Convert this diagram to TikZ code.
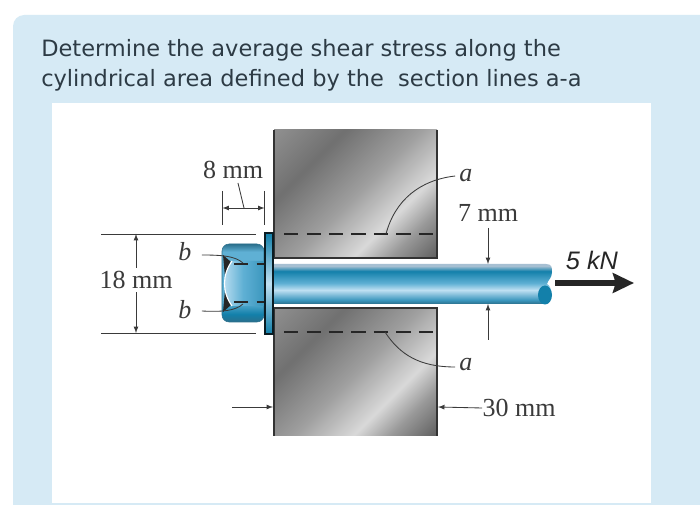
\documentclass[tikz,border=0pt]{standalone}
\usepackage{fontspec}
\usetikzlibrary{arrows.meta}
\setmainfont{Liberation Serif}
\setsansfont{Liberation Sans}
\newfontfamily\titlefont{DejaVu Sans}
\definecolor{panelblue}{HTML}{D6EAF5}
\definecolor{titlegray}{HTML}{2D3B45}
\definecolor{labelgray}{HTML}{3A3A3A}
\definecolor{pindark}{HTML}{2A6F8C}
\definecolor{pinmid}{HTML}{3C97BE}
\definecolor{pinlight}{HTML}{BFE0F2}
\definecolor{pinsoft}{HTML}{5FB0D4}
\definecolor{pinteal}{HTML}{1380AA}
\definecolor{pintop}{HTML}{A6BFD2}
\pgfdeclareverticalshading{shaftshade}{100bp}{color(0bp)=(pindark); color(25bp)=(pindark); color(30bp)=(pinmid); color(42.5bp)=(pinlight); color(51bp)=(pinsoft); color(66bp)=(pinteal); color(72.5bp)=(pintop); color(75bp)=(pintop); color(100bp)=(pintop)}
\pgfdeclarehorizontalshading{blockshade}{100bp}{color(0bp)=(black!44); color(15bp)=(black!44); color(32bp)=(black!56); color(50bp)=(black!38); color(65bp)=(black!15); color(74bp)=(black!40); color(85bp)=(black!62); color(100bp)=(black!62)}
\pgfdeclareverticalshading{headshade}{100bp}{color(0bp)=(pindark); color(25bp)=(pindark); color(30bp)=(pinteal); color(38bp)=(pinsoft); color(62bp)=(pinsoft); color(70bp)=(pinsoft); color(75bp)=(pindark); color(100bp)=(pindark)}
\pgfdeclarehorizontalshading{faceshade}{100bp}{color(0bp)=(pinlight); color(25bp)=(pinlight); color(50bp)=(pinsoft); color(75bp)=(pinmid); color(100bp)=(pinmid)}
\pgfdeclareverticalshading{washervert}{100bp}{color(0bp)=(pinteal); color(25bp)=(pinteal); color(50bp)=(pinlight); color(75bp)=(pinteal); color(100bp)=(pinteal)}
\tikzset{
 dim/.style={labelgray,line width=0.6pt},
 lbl/.style={text=labelgray,font=\fontsize{18.5}{20}\selectfont,inner sep=0pt},
 sect/.style={black!85,line width=1.3pt,dash pattern=on 10pt off 6pt},
}
\begin{document}
\begin{tikzpicture}[>=latex,x=0.025cm,y=-0.025cm]
\useasboundingbox (0,0) rectangle (700,505);
\fill[white] (0,0) rectangle (700,505);
\fill[panelblue,rounded corners=8] (13,15) -- (720,15) -- (720,530) -- (13,530) -- cycle;
\fill[white] (52,103) rectangle (651,503);
\node[anchor=base west,inner sep=0pt,text=titlegray,font=\titlefont\fontsize{16}{18}\selectfont] (line1) at (41,56.5) {Determine the average shear stress along the};
\node[anchor=base west,inner sep=0pt,text=titlegray,font=\titlefont\fontsize{16}{18}\selectfont] (line2) at (41,86.5) {cylindrical area defined by the\ \ section lines a-a};
% plate
\shade[shading=blockshade,shading angle=-45] (274,130) rectangle (437,258);
\shade[shading=blockshade,shading angle=-45] (274,308) rectangle (437,436);
\draw[black!80,line width=1pt] (274,130) -- (274,258) -- (437,258) -- (437,130);
\draw[black!80,line width=1pt] (274,436) -- (274,308) -- (437,308) -- (437,436);
% pin
\shade[shading=shaftshade] (268,264) -- (546,264) .. controls (552,264) and (552,268) .. (552,272) .. controls (552,278) and (548,280) .. (547,284) .. controls (553,287) and (553,300) .. (545,304) -- (268,304) -- cycle;
\fill[pinteal] (545,295) ellipse (7 and 9.5);
% head and washer
\shade[shading=headshade,draw=pindark,rounded corners=5] (264,244) -- (222,244) -- (222,322) -- (264,322) -- cycle;
\fill[black!85] (223,255) -- (231,262) -- (225,277) -- cycle (223,312) -- (231,305) -- (225,290) -- cycle;
\shade[shading=faceshade] (264,261) -- (232,261) .. controls (222,275) and (222,292) .. (232,306) -- (264,306) -- cycle;
\draw[white,line width=0.8pt] (232,261) .. controls (222,275) and (222,292) .. (232,306);
\shade[shading=washervert,draw=black!75!pindark,line width=1.1pt] (265,233) rectangle (273,334);
% section lines
\draw[sect] (284,234) -- (433,234);
\draw[sect] (284,332) -- (433,332);
\draw[sect] (234,264) -- (264,264);
\draw[sect] (234,302) -- (264,302);
% labels
\node[lbl] (eight) at (233,170) {8 mm};
\node[lbl] (eighteen) at (136,280) {18 mm};
\node[lbl] (seven) at (488,213) {7 mm};
\node[lbl] (thirty) at (519,408) {30 mm};
\node[lbl] (aone) at (466,176) {\textit{a}};
\node[lbl] (atwo) at (466,365) {\textit{a}};
\node[lbl] (bone) at (185,252) {\textit{b}};
\node[lbl] (btwo) at (185,310) {\textit{b}};
\node[inner sep=0pt,text=black!85,font=\sffamily\itshape\fontsize{18}{20}\selectfont] (force) at (592,260.5) {5 kN};
% dimensions
\coordinate (e1) at (222.5,191); \coordinate (e2) at (222.5,225);
\coordinate (e3) at (264.5,191); \coordinate (e4) at (264.5,225);
\coordinate (e5) at (222.5,208); \coordinate (e6) at (264.5,208); \coordinate (e7) at (244,208);
\draw[dim] (e1) -- (e2);
\draw[dim] (e3) -- (e4);
\draw[dim,<->] (e5) -- (e6);
\draw[dim] (eight) ++(5,13) -- (e7);
\coordinate (h1) at (101,234); \coordinate (h2) at (256,234);
\coordinate (h3) at (101,333); \coordinate (h4) at (256,333);
\coordinate (h5) at (136,234); \coordinate (h6) at (136,333);
\draw[dim] (h1) -- (h2);
\draw[dim] (h3) -- (h4);
\draw[dim,->] (eighteen.north) ++(0,-3) -- (h5);
\draw[dim,->] (eighteen.south) ++(0,3) -- (h6);
\coordinate (s1) at (488,228); \coordinate (s2) at (488,264);
\coordinate (s3) at (488,340); \coordinate (s4) at (488,304);
\draw[dim,->] (s1) -- (s2);
\draw[dim,->] (s3) -- (s4);
\coordinate (t1) at (232,407); \coordinate (t2) at (273,407); \coordinate (t3) at (438,407);
\draw[dim,->] (t1) -- (t2);
\draw[dim,->] (thirty.west) -- (t3);
% leaders
\coordinate (l1) at (386,234); \coordinate (l2) at (385,332);
\coordinate (l3) at (243,263); \coordinate (l4) at (243,304);
\draw[dim] (aone.west) ++(-4,0) .. controls (420,180) and (395,200) .. (l1);
\draw[dim] (atwo.west) ++(-4,2) .. controls (420,367) and (400,355) .. (l2);
\draw[dim] (bone.east) ++(10,3) .. controls (222,255) and (235,256) .. (l3);
\draw[dim] (btwo.east) ++(10,1) .. controls (222,312) and (235,311) .. (l4);
% force
\coordinate (f1) at (555,283); \coordinate (f2) at (634,283);
\draw[-{Stealth[length=15pt,width=14pt,inset=2pt]},black!85,line width=3.6pt] (f1) -- (f2);
\end{tikzpicture}
\end{document}
